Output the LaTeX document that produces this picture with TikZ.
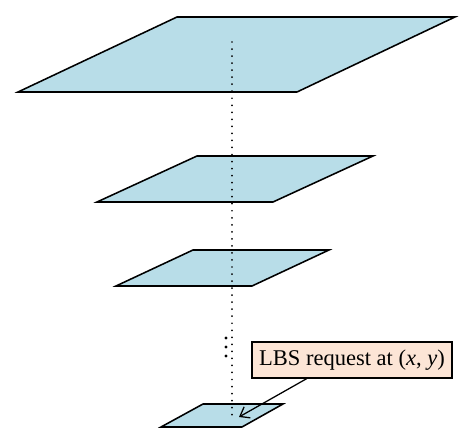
\documentclass[tikz,border=0pt]{standalone}
\usepackage{fontspec}
\setmainfont{Liberation Serif}
\usetikzlibrary{arrows.meta,calc}
\definecolor{planeblue}{RGB}{184,221,232}
\definecolor{notepeach}{RGB}{252,229,214}
\tikzstyle{plane} = [draw, line width=1.1pt, fill=planeblue, line join=miter]
\tikzstyle{axis line} = [draw, line width=1.4pt, line cap=round, dash pattern=on 0pt off 5pt]
\tikzstyle{axis dot} = [circle, fill=black, minimum size=2.4pt, inner sep=0pt]
\tikzstyle{note box} = [draw, line width=0.9pt, fill=notepeach, minimum width=5cm, minimum height=0.9cm, inner sep=2pt, font=\fontsize{16}{18}\selectfont]
\tikzstyle{pointer} = [draw, line width=0.9pt, -{Straight Barb[length=6pt,width=9pt,line width=0.9pt]}]
% top-left x / top-right x / top y / bottom-left x / bottom-right x / bottom y
\def\planes{177/455/17/18/297/92, 197/373/156/97/273/202, 193/329/250/116/252/286, 203/283/404/161/242/427}
\def\sideDots{{(226,338)/d1}, {(226,347)/d2}, {(226,356)/d3}}

\begin{document}
\begin{tikzpicture}[x=0.025cm, y=-0.025cm]
  \useasboundingbox (0,0) rectangle (474,445);

  \foreach \tl/\tr/\ty/\bl/\br/\by in \planes {
    \path[plane] (\tl,\ty) -- (\tr,\ty) -- (\br,\by) -- (\bl,\by) -- cycle;
    }

  \coordinate (top) at (232,42);
  \coordinate (bottom) at (232,417);
  \path[axis line] (top) -- (bottom);

  \foreach \pos/\name in \sideDots {
    \node[axis dot] (\name) at \pos {};
    }

  \node[note box] (note) at (352,360) {LBS request at (\textit{x}, \textit{y})};
  \coordinate (request) at (239,417);
  \path[pointer] ($(note.south west)!0.275!(note.south east)$) -- (request);

\end{tikzpicture}
\end{document}
